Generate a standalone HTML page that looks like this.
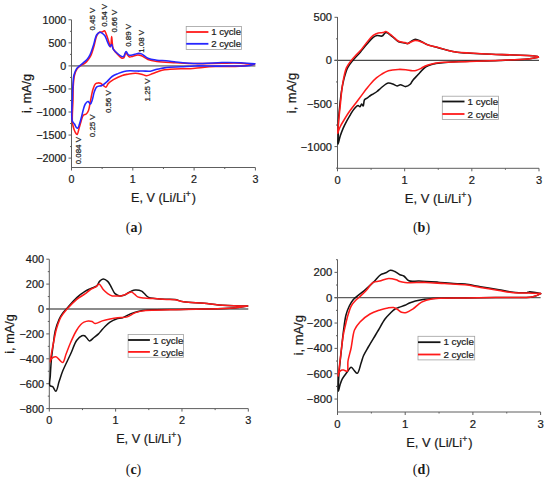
<!DOCTYPE html>
<html><head><meta charset="utf-8"><style>
html,body{margin:0;padding:0;background:#fff;width:550px;height:482px;overflow:hidden}
svg{display:block}
text{stroke:#1a1a1a;stroke-width:0.22px;paint-order:stroke}
</style></head><body>
<svg width="550" height="482" viewBox="0 0 550 482">
<rect width="550" height="482" fill="#fff"/>
<line x1="71.50" y1="65.90" x2="255.40" y2="65.90" stroke="#8c8c8c" stroke-width="1.70"/>
<line x1="71.50" y1="19.80" x2="71.50" y2="168.00" stroke="#5e5e5e" stroke-width="1.00"/>
<line x1="71.00" y1="167.50" x2="255.40" y2="167.50" stroke="#5e5e5e" stroke-width="1.00"/>
<line x1="68.50" y1="19.80" x2="71.50" y2="19.80" stroke="#5e5e5e" stroke-width="1.00"/>
<text x="66.30" y="23.65" font-size="10.70" text-anchor="end" fill="#1a1a1a" font-family='"Liberation Sans", sans-serif' font-weight="normal">1000</text>
<line x1="68.50" y1="42.85" x2="71.50" y2="42.85" stroke="#5e5e5e" stroke-width="1.00"/>
<text x="66.30" y="46.70" font-size="10.70" text-anchor="end" fill="#1a1a1a" font-family='"Liberation Sans", sans-serif' font-weight="normal">500</text>
<line x1="68.50" y1="65.90" x2="71.50" y2="65.90" stroke="#5e5e5e" stroke-width="1.00"/>
<text x="66.30" y="69.75" font-size="10.70" text-anchor="end" fill="#1a1a1a" font-family='"Liberation Sans", sans-serif' font-weight="normal">0</text>
<line x1="68.50" y1="88.95" x2="71.50" y2="88.95" stroke="#5e5e5e" stroke-width="1.00"/>
<text x="66.30" y="92.80" font-size="10.70" text-anchor="end" fill="#1a1a1a" font-family='"Liberation Sans", sans-serif' font-weight="normal">−500</text>
<line x1="68.50" y1="112.00" x2="71.50" y2="112.00" stroke="#5e5e5e" stroke-width="1.00"/>
<text x="66.30" y="115.85" font-size="10.70" text-anchor="end" fill="#1a1a1a" font-family='"Liberation Sans", sans-serif' font-weight="normal">−1000</text>
<line x1="68.50" y1="135.05" x2="71.50" y2="135.05" stroke="#5e5e5e" stroke-width="1.00"/>
<text x="66.30" y="138.90" font-size="10.70" text-anchor="end" fill="#1a1a1a" font-family='"Liberation Sans", sans-serif' font-weight="normal">−1500</text>
<line x1="68.50" y1="158.10" x2="71.50" y2="158.10" stroke="#5e5e5e" stroke-width="1.00"/>
<text x="66.30" y="161.95" font-size="10.70" text-anchor="end" fill="#1a1a1a" font-family='"Liberation Sans", sans-serif' font-weight="normal">−2000</text>
<line x1="70.00" y1="31.33" x2="71.50" y2="31.33" stroke="#5e5e5e" stroke-width="1.00"/>
<line x1="70.00" y1="54.38" x2="71.50" y2="54.38" stroke="#5e5e5e" stroke-width="1.00"/>
<line x1="70.00" y1="77.43" x2="71.50" y2="77.43" stroke="#5e5e5e" stroke-width="1.00"/>
<line x1="70.00" y1="100.48" x2="71.50" y2="100.48" stroke="#5e5e5e" stroke-width="1.00"/>
<line x1="70.00" y1="123.53" x2="71.50" y2="123.53" stroke="#5e5e5e" stroke-width="1.00"/>
<line x1="70.00" y1="146.57" x2="71.50" y2="146.57" stroke="#5e5e5e" stroke-width="1.00"/>
<line x1="71.50" y1="167.50" x2="71.50" y2="170.50" stroke="#5e5e5e" stroke-width="1.00"/>
<text x="71.50" y="182.50" font-size="10.70" text-anchor="middle" fill="#1a1a1a" font-family='"Liberation Sans", sans-serif' font-weight="normal">0</text>
<line x1="132.80" y1="167.50" x2="132.80" y2="170.50" stroke="#5e5e5e" stroke-width="1.00"/>
<text x="132.80" y="182.50" font-size="10.70" text-anchor="middle" fill="#1a1a1a" font-family='"Liberation Sans", sans-serif' font-weight="normal">1</text>
<line x1="194.10" y1="167.50" x2="194.10" y2="170.50" stroke="#5e5e5e" stroke-width="1.00"/>
<text x="194.10" y="182.50" font-size="10.70" text-anchor="middle" fill="#1a1a1a" font-family='"Liberation Sans", sans-serif' font-weight="normal">2</text>
<line x1="255.40" y1="167.50" x2="255.40" y2="170.50" stroke="#5e5e5e" stroke-width="1.00"/>
<text x="255.40" y="182.50" font-size="10.70" text-anchor="middle" fill="#1a1a1a" font-family='"Liberation Sans", sans-serif' font-weight="normal">3</text>
<line x1="102.15" y1="167.50" x2="102.15" y2="169.00" stroke="#5e5e5e" stroke-width="1.00"/>
<line x1="163.45" y1="167.50" x2="163.45" y2="169.00" stroke="#5e5e5e" stroke-width="1.00"/>
<line x1="224.75" y1="167.50" x2="224.75" y2="169.00" stroke="#5e5e5e" stroke-width="1.00"/>
<text x="163.50" y="201.80" font-size="12.60" text-anchor="middle" fill="#1a1a1a" font-family='"Liberation Sans", sans-serif'>E, V (Li/Li<tspan font-size="8.57" dy="-5">+</tspan><tspan dy="5" dx="1">)</tspan></text>
<text x="30.80" y="93.50" font-size="12.60" text-anchor="middle" fill="#1a1a1a" font-family='"Liberation Sans", sans-serif' font-weight="normal" transform="rotate(-90 30.80 93.50)">i, mA/g</text>
<text x="134.00" y="231.50" font-size="14" text-anchor="middle" fill="#1a1a1a" style="stroke:none" font-family='"Liberation Serif", serif'>(<tspan font-weight="bold">a</tspan>)</text>
<rect x="186.20" y="26.50" width="55.20" height="22.90" fill="none" stroke="#a0a0a0" stroke-width="0.8"/>
<line x1="186.20" y1="32.00" x2="208.40" y2="32.00" stroke="#ff1a1a" stroke-width="1.80"/>
<text x="211.20" y="35.30" font-size="9.60" text-anchor="start" fill="#1a1a1a" font-family='"Liberation Sans", sans-serif' font-weight="normal">1 cycle</text>
<line x1="186.20" y1="43.80" x2="208.40" y2="43.80" stroke="#2626ff" stroke-width="1.80"/>
<text x="211.20" y="47.00" font-size="9.60" text-anchor="start" fill="#1a1a1a" font-family='"Liberation Sans", sans-serif' font-weight="normal">2 cycle</text>
<path d="M254.50,64.30 C254.50,64.30 245.17,65.89 239.60,66.30 C232.54,66.82 222.27,66.35 215.50,66.60 C210.56,66.78 206.95,67.03 202.70,67.40 C198.45,67.77 193.89,68.61 190.00,68.80 C186.72,68.96 184.07,68.63 180.90,68.70 C177.43,68.78 173.35,69.02 170.00,69.30 C167.12,69.54 164.71,69.56 162.00,70.20 C159.05,70.90 155.76,72.53 153.00,73.50 C150.66,74.32 148.53,75.66 146.50,75.70 C144.73,75.73 143.26,74.59 141.50,74.20 C139.61,73.78 137.61,73.33 135.50,73.30 C133.14,73.27 130.32,73.82 128.00,74.20 C125.96,74.54 124.36,74.70 122.30,75.40 C119.61,76.32 115.90,78.19 113.40,79.70 C111.40,80.91 109.60,82.12 108.30,83.50 C107.22,84.65 106.80,87.01 105.90,87.20 C105.17,87.35 104.33,86.20 103.50,85.60 C102.54,84.92 101.50,83.73 100.50,83.30 C99.70,82.95 98.91,82.83 98.10,82.90 C97.24,82.97 96.24,83.12 95.50,83.80 C94.40,84.80 93.74,87.09 93.00,89.30 C91.98,92.37 91.27,97.04 90.50,100.70 C89.78,104.09 89.48,108.12 88.50,110.50 C87.87,112.04 87.15,113.19 86.20,114.00 C85.37,114.70 84.09,114.44 83.30,115.30 C82.11,116.58 81.62,119.77 80.90,122.00 C80.19,124.17 79.65,126.38 79.00,128.50 C78.38,130.54 77.90,134.34 77.10,134.50 C76.55,134.61 75.72,133.07 75.20,132.20 C74.64,131.28 74.30,130.36 73.90,129.10 C73.32,127.26 72.68,125.11 72.40,122.10 C71.91,116.82 72.84,106.59 73.00,100.00 C73.13,94.66 73.00,89.90 73.30,85.50 C73.56,81.80 73.74,78.26 74.50,75.30 C75.12,72.87 75.97,70.54 77.10,68.90 C78.00,67.59 79.07,66.81 80.30,65.90 C81.67,64.89 83.67,64.25 85.00,63.20 C86.19,62.26 87.07,61.19 88.00,60.00 C89.01,58.71 89.93,57.50 90.80,55.70 C92.04,53.14 93.08,49.19 94.10,45.80 C95.15,42.29 95.63,37.38 97.00,35.00 C97.85,33.54 98.99,32.42 100.00,32.00 C100.73,31.70 101.48,32.18 102.20,32.00 C102.98,31.81 103.87,30.60 104.50,30.80 C105.26,31.04 105.63,32.75 106.20,34.10 C107.03,36.07 107.98,39.30 108.70,41.60 C109.31,43.54 109.88,47.01 110.30,47.00 C110.64,46.99 110.89,44.87 111.10,43.50 C111.39,41.60 111.45,36.60 111.65,36.60 C111.82,36.60 112.01,40.22 112.20,42.00 C112.39,43.75 112.44,45.75 112.80,47.20 C113.07,48.30 113.29,49.00 113.90,50.00 C114.80,51.48 116.83,53.46 118.20,54.90 C119.35,56.11 120.39,57.77 121.50,58.10 C122.33,58.34 123.34,58.18 124.00,57.60 C124.98,56.74 125.15,52.38 125.80,52.30 C126.24,52.25 126.64,53.77 127.20,54.50 C127.84,55.34 128.55,56.71 129.50,57.00 C130.47,57.30 131.75,56.49 133.00,56.20 C134.45,55.86 136.21,55.14 137.70,55.10 C139.03,55.07 140.12,55.29 141.50,55.80 C143.41,56.50 145.51,58.57 147.90,59.50 C150.55,60.54 153.25,60.99 156.80,61.50 C161.94,62.23 169.53,62.35 175.90,62.70 C182.27,63.05 188.09,63.49 195.00,63.60 C203.18,63.73 213.62,63.26 221.80,63.20 C228.70,63.15 235.08,62.96 240.90,63.20 C245.82,63.40 254.50,64.30 254.50,64.30" fill="none" stroke="#ff1a1a" stroke-width="1.55" stroke-linejoin="round" stroke-linecap="round"/>
<path d="M254.90,63.70 C254.90,63.70 252.23,64.99 250.00,65.40 C245.63,66.20 236.13,65.89 230.00,66.00 C224.78,66.10 220.75,66.11 215.50,66.10 C209.26,66.09 201.19,65.73 195.00,65.90 C189.86,66.04 185.35,66.58 180.90,66.80 C176.90,67.00 172.92,66.90 169.50,67.20 C166.67,67.45 164.06,67.93 161.80,68.30 C160.01,68.60 158.71,68.78 157.00,69.20 C154.96,69.70 152.71,70.89 150.40,71.20 C147.96,71.53 144.99,71.01 142.70,71.00 C140.85,70.99 139.55,71.12 137.70,71.10 C135.41,71.08 132.40,70.73 130.00,70.80 C127.87,70.86 125.97,70.95 124.00,71.40 C121.97,71.87 119.97,72.76 118.00,73.60 C116.00,74.45 113.90,75.21 112.10,76.50 C110.22,77.85 108.75,80.07 107.00,81.60 C105.35,83.05 103.69,84.61 101.90,85.50 C100.27,86.31 98.06,85.87 96.80,86.90 C95.51,87.95 94.99,89.94 94.30,91.80 C93.47,94.04 93.14,97.32 92.40,99.50 C91.83,101.20 91.33,103.73 90.50,103.90 C89.78,104.04 88.76,101.39 87.90,101.40 C87.03,101.41 86.00,102.90 85.30,104.00 C84.46,105.33 84.07,107.12 83.50,109.00 C82.79,111.34 82.19,114.43 81.50,117.00 C80.85,119.42 80.21,121.97 79.50,124.00 C78.93,125.63 78.44,128.10 77.70,128.30 C77.20,128.43 76.49,127.60 76.00,127.00 C75.38,126.25 75.10,124.99 74.50,124.00 C73.85,122.92 72.73,122.48 72.20,120.80 C70.92,116.78 72.24,104.65 72.40,98.20 C72.52,93.36 72.63,89.50 72.90,85.50 C73.15,81.91 73.17,78.26 73.90,75.30 C74.50,72.87 75.39,70.55 76.50,68.90 C77.38,67.60 78.46,66.93 79.60,65.90 C80.92,64.71 82.68,63.35 84.00,62.20 C85.10,61.24 86.07,60.59 87.00,59.50 C88.09,58.23 89.07,56.76 90.00,54.90 C91.23,52.44 92.24,48.98 93.30,45.80 C94.45,42.37 95.23,37.27 96.60,35.00 C97.38,33.70 98.20,32.66 99.20,32.40 C100.15,32.15 101.46,32.75 102.40,33.30 C103.37,33.87 104.16,34.70 104.90,35.80 C105.89,37.26 106.54,39.75 107.40,41.60 C108.21,43.34 109.08,46.51 109.90,46.60 C110.47,46.66 111.11,44.41 111.60,44.50 C112.26,44.62 112.28,47.63 113.20,49.10 C114.31,50.87 116.61,52.77 118.20,54.10 C119.45,55.14 120.76,56.34 121.80,56.60 C122.47,56.77 123.04,56.78 123.60,56.40 C124.56,55.74 125.23,51.66 126.10,51.60 C126.84,51.55 127.47,54.21 128.40,54.80 C129.16,55.29 130.04,55.33 131.00,55.30 C132.19,55.27 133.80,54.65 135.00,54.30 C135.99,54.01 136.71,53.49 137.70,53.40 C138.85,53.29 140.14,53.38 141.50,53.90 C143.44,54.64 145.48,57.26 147.90,58.30 C150.52,59.43 153.79,59.78 156.80,60.20 C159.83,60.62 162.88,60.53 166.00,60.80 C169.24,61.09 172.57,61.55 175.90,61.90 C179.27,62.25 182.28,62.66 186.10,62.90 C190.96,63.21 196.97,63.45 202.70,63.40 C208.84,63.35 215.43,62.62 221.80,62.50 C228.16,62.38 235.03,62.46 240.90,62.70 C245.93,62.91 254.90,63.70 254.90,63.70" fill="none" stroke="#2626ff" stroke-width="1.55" stroke-linejoin="round" stroke-linecap="round"/>
<line x1="334.50" y1="60.40" x2="539.00" y2="60.40" stroke="#4a4a4a" stroke-width="1.20"/>
<line x1="337.50" y1="17.00" x2="337.50" y2="168.80" stroke="#5e5e5e" stroke-width="1.00"/>
<line x1="337.00" y1="168.30" x2="539.00" y2="168.30" stroke="#5e5e5e" stroke-width="1.00"/>
<line x1="334.50" y1="17.30" x2="337.50" y2="17.30" stroke="#5e5e5e" stroke-width="1.00"/>
<text x="332.00" y="21.30" font-size="11.10" text-anchor="end" fill="#1a1a1a" font-family='"Liberation Sans", sans-serif' font-weight="normal">500</text>
<line x1="334.50" y1="60.40" x2="337.50" y2="60.40" stroke="#5e5e5e" stroke-width="1.00"/>
<text x="332.00" y="64.40" font-size="11.10" text-anchor="end" fill="#1a1a1a" font-family='"Liberation Sans", sans-serif' font-weight="normal">0</text>
<line x1="334.50" y1="103.50" x2="337.50" y2="103.50" stroke="#5e5e5e" stroke-width="1.00"/>
<text x="332.00" y="107.50" font-size="11.10" text-anchor="end" fill="#1a1a1a" font-family='"Liberation Sans", sans-serif' font-weight="normal">−500</text>
<line x1="334.50" y1="146.60" x2="337.50" y2="146.60" stroke="#5e5e5e" stroke-width="1.00"/>
<text x="332.00" y="150.60" font-size="11.10" text-anchor="end" fill="#1a1a1a" font-family='"Liberation Sans", sans-serif' font-weight="normal">−1000</text>
<line x1="336.00" y1="38.85" x2="337.50" y2="38.85" stroke="#5e5e5e" stroke-width="1.00"/>
<line x1="336.00" y1="81.95" x2="337.50" y2="81.95" stroke="#5e5e5e" stroke-width="1.00"/>
<line x1="336.00" y1="125.05" x2="337.50" y2="125.05" stroke="#5e5e5e" stroke-width="1.00"/>
<line x1="336.00" y1="168.15" x2="337.50" y2="168.15" stroke="#5e5e5e" stroke-width="1.00"/>
<line x1="337.50" y1="168.30" x2="337.50" y2="171.30" stroke="#5e5e5e" stroke-width="1.00"/>
<text x="337.50" y="184.00" font-size="11.10" text-anchor="middle" fill="#1a1a1a" font-family='"Liberation Sans", sans-serif' font-weight="normal">0</text>
<line x1="404.67" y1="168.30" x2="404.67" y2="171.30" stroke="#5e5e5e" stroke-width="1.00"/>
<text x="404.67" y="184.00" font-size="11.10" text-anchor="middle" fill="#1a1a1a" font-family='"Liberation Sans", sans-serif' font-weight="normal">1</text>
<line x1="471.83" y1="168.30" x2="471.83" y2="171.30" stroke="#5e5e5e" stroke-width="1.00"/>
<text x="471.83" y="184.00" font-size="11.10" text-anchor="middle" fill="#1a1a1a" font-family='"Liberation Sans", sans-serif' font-weight="normal">2</text>
<line x1="539.00" y1="168.30" x2="539.00" y2="171.30" stroke="#5e5e5e" stroke-width="1.00"/>
<text x="539.00" y="184.00" font-size="11.10" text-anchor="middle" fill="#1a1a1a" font-family='"Liberation Sans", sans-serif' font-weight="normal">3</text>
<line x1="371.08" y1="168.30" x2="371.08" y2="169.80" stroke="#5e5e5e" stroke-width="1.00"/>
<line x1="438.25" y1="168.30" x2="438.25" y2="169.80" stroke="#5e5e5e" stroke-width="1.00"/>
<line x1="505.42" y1="168.30" x2="505.42" y2="169.80" stroke="#5e5e5e" stroke-width="1.00"/>
<text x="438.30" y="203.30" font-size="13.00" text-anchor="middle" fill="#1a1a1a" font-family='"Liberation Sans", sans-serif'>E, V (Li/Li<tspan font-size="8.84" dy="-5">+</tspan><tspan dy="5" dx="1">)</tspan></text>
<text x="296.20" y="93.00" font-size="13.00" text-anchor="middle" fill="#1a1a1a" font-family='"Liberation Sans", sans-serif' font-weight="normal" transform="rotate(-90 296.20 93.00)">i, mA/g</text>
<text x="421.50" y="231.50" font-size="14" text-anchor="middle" fill="#1a1a1a" style="stroke:none" font-family='"Liberation Serif", serif'>(<tspan font-weight="bold">b</tspan>)</text>
<rect x="442.30" y="96.20" width="56.30" height="23.20" fill="none" stroke="#a0a0a0" stroke-width="0.8"/>
<line x1="442.30" y1="101.50" x2="464.50" y2="101.50" stroke="#141414" stroke-width="1.80"/>
<text x="467.60" y="105.40" font-size="9.80" text-anchor="start" fill="#1a1a1a" font-family='"Liberation Sans", sans-serif' font-weight="normal">1 cycle</text>
<line x1="442.30" y1="114.00" x2="464.50" y2="114.00" stroke="#ff1a1a" stroke-width="1.80"/>
<text x="467.60" y="117.60" font-size="9.80" text-anchor="start" fill="#1a1a1a" font-family='"Liberation Sans", sans-serif' font-weight="normal">2 cycle</text>
<path d="M538.40,57.20 C538.40,57.20 532.35,58.43 528.00,58.90 C520.77,59.68 508.67,60.00 499.00,60.40 C489.34,60.80 478.66,61.03 470.00,61.30 C462.97,61.52 456.91,61.47 450.90,61.90 C445.51,62.28 438.98,63.06 435.60,63.60 C433.90,63.87 433.20,63.97 431.80,64.40 C429.94,64.97 427.41,65.72 425.50,67.00 C423.45,68.36 421.54,70.88 420.00,72.50 C418.83,73.72 418.09,74.61 417.00,75.80 C415.70,77.21 413.88,78.88 412.70,80.40 C411.68,81.71 411.32,83.27 410.20,84.30 C409.04,85.36 407.37,86.49 405.80,86.60 C404.12,86.72 401.98,84.69 400.40,84.70 C399.16,84.71 398.27,85.95 397.10,85.90 C395.73,85.85 394.19,84.37 392.70,83.90 C391.29,83.45 389.58,83.00 388.40,83.10 C387.53,83.17 387.04,83.43 386.20,83.90 C384.78,84.69 382.60,86.67 381.00,88.00 C379.56,89.19 378.32,90.49 377.00,91.50 C375.83,92.39 374.63,93.11 373.50,93.80 C372.47,94.43 371.48,94.85 370.50,95.50 C369.48,96.18 368.51,97.08 367.50,97.80 C366.51,98.51 365.21,98.75 364.50,99.80 C363.56,101.19 363.88,105.84 363.20,106.00 C362.77,106.10 362.11,103.96 361.60,104.00 C361.03,104.04 360.67,106.63 360.00,106.80 C359.43,106.95 358.74,105.54 358.00,105.60 C356.93,105.68 355.45,107.41 354.30,108.70 C352.95,110.22 351.81,112.34 350.60,114.30 C349.31,116.39 348.02,118.61 346.80,120.90 C345.52,123.30 344.19,125.88 343.10,128.40 C342.04,130.85 341.15,133.23 340.30,135.80 C339.40,138.52 338.24,144.35 337.90,144.30 C337.57,144.25 338.12,139.17 338.20,136.00 C338.31,131.73 338.16,125.78 338.40,121.00 C338.62,116.61 339.05,112.89 339.50,108.40 C340.02,103.24 340.60,96.95 341.40,91.80 C342.10,87.27 342.82,83.20 343.90,79.10 C344.94,75.14 346.02,70.90 347.70,67.60 C349.16,64.74 351.00,62.68 353.00,60.20 C355.22,57.45 358.14,54.63 360.50,51.90 C362.72,49.33 364.66,46.76 366.80,44.30 C368.90,41.89 371.20,38.74 373.20,37.30 C374.53,36.34 375.61,35.84 377.00,35.60 C378.54,35.33 380.62,36.52 382.10,36.00 C383.59,35.47 384.41,32.53 385.90,32.40 C387.70,32.24 390.21,35.08 392.30,36.60 C394.45,38.17 396.35,40.64 398.60,41.70 C400.62,42.65 403.34,42.64 405.00,43.00 C406.06,43.23 406.71,43.75 407.60,43.60 C408.69,43.42 409.79,42.20 411.00,41.50 C412.34,40.73 413.71,39.29 415.30,39.20 C417.18,39.09 419.51,40.77 421.60,41.70 C423.75,42.66 425.57,43.97 428.00,44.90 C430.96,46.03 434.80,46.75 438.20,47.70 C441.60,48.65 445.10,49.84 448.40,50.60 C451.45,51.31 454.06,51.78 457.30,52.20 C461.15,52.70 465.20,52.89 470.00,53.20 C476.29,53.61 484.53,54.00 491.80,54.30 C499.07,54.60 506.16,54.65 513.60,55.00 C521.41,55.37 535.16,55.50 537.60,56.50 C538.11,56.71 538.40,57.20 538.40,57.20" fill="none" stroke="#141414" stroke-width="1.55" stroke-linejoin="round" stroke-linecap="round"/>
<path d="M538.40,57.20 C538.40,57.20 532.35,58.43 528.00,58.90 C520.77,59.68 508.67,59.97 499.00,60.40 C489.33,60.83 479.36,61.18 470.00,61.50 C461.23,61.80 450.14,61.99 444.50,62.30 C441.69,62.46 440.30,62.52 438.20,62.80 C436.07,63.08 433.65,63.56 431.80,64.00 C430.36,64.34 429.35,64.63 428.00,65.10 C426.41,65.66 424.34,66.49 422.90,67.20 C421.78,67.76 421.07,68.38 420.00,68.90 C418.79,69.49 417.32,70.19 416.00,70.50 C414.79,70.79 413.78,70.86 412.40,70.80 C410.53,70.72 408.09,69.93 405.80,69.70 C403.36,69.45 400.89,69.26 398.20,69.40 C395.13,69.56 391.28,69.90 388.40,70.80 C385.91,71.58 383.85,72.88 381.80,74.10 C379.86,75.26 378.15,76.43 376.40,77.90 C374.50,79.49 372.59,81.53 370.90,83.40 C369.30,85.17 368.09,86.77 366.50,88.80 C364.52,91.34 362.10,94.71 360.00,97.50 C358.04,100.10 356.19,102.50 354.30,105.00 C352.42,107.50 350.44,109.96 348.70,112.50 C347.01,114.97 345.45,117.57 344.00,120.00 C342.67,122.23 341.28,124.48 340.30,126.50 C339.49,128.16 338.83,129.90 338.40,131.20 C338.11,132.09 337.89,133.51 337.80,133.50 C337.71,133.49 337.84,132.05 337.90,131.00 C338.00,129.20 338.19,126.29 338.40,123.70 C338.64,120.76 338.98,117.42 339.30,114.30 C339.62,111.19 339.95,108.37 340.30,105.00 C340.71,100.99 341.06,96.15 341.60,91.80 C342.13,87.52 342.66,83.21 343.50,79.10 C344.31,75.15 345.01,70.90 346.50,67.60 C347.80,64.74 349.87,62.32 351.50,60.20 C352.83,58.47 353.98,57.22 355.40,55.70 C356.96,54.03 358.78,52.57 360.50,50.60 C362.56,48.25 364.63,44.98 366.80,42.40 C368.87,39.93 371.03,37.03 373.20,35.40 C374.88,34.14 376.59,33.35 378.30,32.90 C379.86,32.49 381.64,32.87 383.00,32.60 C384.10,32.38 384.79,31.45 385.90,31.60 C387.67,31.84 390.21,34.42 392.30,36.00 C394.44,37.62 396.35,40.11 398.60,41.20 C400.61,42.18 403.35,42.11 405.00,42.60 C406.07,42.92 406.68,43.63 407.60,43.60 C408.67,43.56 409.79,42.50 411.00,42.00 C412.34,41.45 413.72,40.59 415.30,40.50 C417.19,40.39 419.53,41.19 421.60,41.90 C423.77,42.64 425.57,44.03 428.00,44.90 C430.96,45.96 434.81,46.55 438.20,47.50 C441.61,48.45 445.09,49.80 448.40,50.60 C451.45,51.33 454.06,51.79 457.30,52.20 C461.15,52.68 465.20,52.80 470.00,53.10 C476.29,53.50 484.53,53.98 491.80,54.30 C499.06,54.62 506.16,54.65 513.60,55.00 C521.41,55.37 535.16,55.50 537.60,56.50 C538.11,56.71 538.40,57.20 538.40,57.20" fill="none" stroke="#ff1a1a" stroke-width="1.55" stroke-linejoin="round" stroke-linecap="round"/>
<line x1="46.30" y1="309.00" x2="248.30" y2="309.00" stroke="#8c8c8c" stroke-width="1.80"/>
<line x1="49.30" y1="259.30" x2="49.30" y2="409.10" stroke="#5e5e5e" stroke-width="1.00"/>
<line x1="48.80" y1="408.60" x2="248.30" y2="408.60" stroke="#5e5e5e" stroke-width="1.00"/>
<line x1="46.30" y1="259.20" x2="49.30" y2="259.20" stroke="#5e5e5e" stroke-width="1.00"/>
<text x="44.00" y="263.12" font-size="10.90" text-anchor="end" fill="#1a1a1a" font-family='"Liberation Sans", sans-serif' font-weight="normal">400</text>
<line x1="46.30" y1="284.10" x2="49.30" y2="284.10" stroke="#5e5e5e" stroke-width="1.00"/>
<text x="44.00" y="288.02" font-size="10.90" text-anchor="end" fill="#1a1a1a" font-family='"Liberation Sans", sans-serif' font-weight="normal">200</text>
<line x1="46.30" y1="309.00" x2="49.30" y2="309.00" stroke="#5e5e5e" stroke-width="1.00"/>
<text x="44.00" y="312.92" font-size="10.90" text-anchor="end" fill="#1a1a1a" font-family='"Liberation Sans", sans-serif' font-weight="normal">0</text>
<line x1="46.30" y1="333.90" x2="49.30" y2="333.90" stroke="#5e5e5e" stroke-width="1.00"/>
<text x="44.00" y="337.82" font-size="10.90" text-anchor="end" fill="#1a1a1a" font-family='"Liberation Sans", sans-serif' font-weight="normal">−200</text>
<line x1="46.30" y1="358.80" x2="49.30" y2="358.80" stroke="#5e5e5e" stroke-width="1.00"/>
<text x="44.00" y="362.72" font-size="10.90" text-anchor="end" fill="#1a1a1a" font-family='"Liberation Sans", sans-serif' font-weight="normal">−400</text>
<line x1="46.30" y1="383.70" x2="49.30" y2="383.70" stroke="#5e5e5e" stroke-width="1.00"/>
<text x="44.00" y="387.62" font-size="10.90" text-anchor="end" fill="#1a1a1a" font-family='"Liberation Sans", sans-serif' font-weight="normal">−600</text>
<line x1="46.30" y1="408.60" x2="49.30" y2="408.60" stroke="#5e5e5e" stroke-width="1.00"/>
<text x="44.00" y="412.52" font-size="10.90" text-anchor="end" fill="#1a1a1a" font-family='"Liberation Sans", sans-serif' font-weight="normal">−800</text>
<line x1="47.80" y1="271.65" x2="49.30" y2="271.65" stroke="#5e5e5e" stroke-width="1.00"/>
<line x1="47.80" y1="296.55" x2="49.30" y2="296.55" stroke="#5e5e5e" stroke-width="1.00"/>
<line x1="47.80" y1="321.45" x2="49.30" y2="321.45" stroke="#5e5e5e" stroke-width="1.00"/>
<line x1="47.80" y1="346.35" x2="49.30" y2="346.35" stroke="#5e5e5e" stroke-width="1.00"/>
<line x1="47.80" y1="371.25" x2="49.30" y2="371.25" stroke="#5e5e5e" stroke-width="1.00"/>
<line x1="47.80" y1="396.15" x2="49.30" y2="396.15" stroke="#5e5e5e" stroke-width="1.00"/>
<line x1="49.30" y1="408.60" x2="49.30" y2="411.60" stroke="#5e5e5e" stroke-width="1.00"/>
<text x="49.30" y="424.20" font-size="10.90" text-anchor="middle" fill="#1a1a1a" font-family='"Liberation Sans", sans-serif' font-weight="normal">0</text>
<line x1="115.63" y1="408.60" x2="115.63" y2="411.60" stroke="#5e5e5e" stroke-width="1.00"/>
<text x="115.63" y="424.20" font-size="10.90" text-anchor="middle" fill="#1a1a1a" font-family='"Liberation Sans", sans-serif' font-weight="normal">1</text>
<line x1="181.97" y1="408.60" x2="181.97" y2="411.60" stroke="#5e5e5e" stroke-width="1.00"/>
<text x="181.97" y="424.20" font-size="10.90" text-anchor="middle" fill="#1a1a1a" font-family='"Liberation Sans", sans-serif' font-weight="normal">2</text>
<line x1="248.30" y1="408.60" x2="248.30" y2="411.60" stroke="#5e5e5e" stroke-width="1.00"/>
<text x="248.30" y="424.20" font-size="10.90" text-anchor="middle" fill="#1a1a1a" font-family='"Liberation Sans", sans-serif' font-weight="normal">3</text>
<line x1="82.47" y1="408.60" x2="82.47" y2="410.10" stroke="#5e5e5e" stroke-width="1.00"/>
<line x1="148.80" y1="408.60" x2="148.80" y2="410.10" stroke="#5e5e5e" stroke-width="1.00"/>
<line x1="215.13" y1="408.60" x2="215.13" y2="410.10" stroke="#5e5e5e" stroke-width="1.00"/>
<text x="148.80" y="443.00" font-size="12.70" text-anchor="middle" fill="#1a1a1a" font-family='"Liberation Sans", sans-serif'>E, V (Li/Li<tspan font-size="8.64" dy="-5">+</tspan><tspan dy="5" dx="1">)</tspan></text>
<text x="14.10" y="334.00" font-size="12.70" text-anchor="middle" fill="#1a1a1a" font-family='"Liberation Sans", sans-serif' font-weight="normal" transform="rotate(-90 14.10 334.00)">i, mA/g</text>
<text x="133.50" y="473.50" font-size="14" text-anchor="middle" fill="#1a1a1a" style="stroke:none" font-family='"Liberation Serif", serif'>(<tspan font-weight="bold">c</tspan>)</text>
<rect x="128.10" y="334.50" width="55.30" height="22.80" fill="none" stroke="#a0a0a0" stroke-width="0.8"/>
<line x1="128.10" y1="340.00" x2="149.90" y2="340.00" stroke="#141414" stroke-width="1.80"/>
<text x="152.90" y="343.90" font-size="9.80" text-anchor="start" fill="#1a1a1a" font-family='"Liberation Sans", sans-serif' font-weight="normal">1 cycle</text>
<line x1="128.10" y1="351.90" x2="149.90" y2="351.90" stroke="#ff1a1a" stroke-width="1.80"/>
<text x="152.90" y="355.50" font-size="9.80" text-anchor="start" fill="#1a1a1a" font-family='"Liberation Sans", sans-serif' font-weight="normal">2 cycle</text>
<path d="M247.70,305.90 C247.70,305.90 238.88,307.39 233.20,307.90 C225.19,308.62 213.34,308.83 204.10,309.10 C195.69,309.34 188.59,309.35 180.00,309.50 C170.13,309.67 155.85,309.54 148.20,310.10 C143.85,310.42 141.12,310.69 138.00,311.40 C135.25,312.02 132.91,312.88 130.40,313.90 C127.80,314.96 125.19,316.84 122.70,317.70 C120.54,318.44 118.46,318.29 116.40,319.00 C114.22,319.75 111.93,320.92 110.00,322.20 C108.15,323.43 106.53,325.00 105.00,326.50 C103.54,327.94 102.17,329.66 101.00,331.00 C100.06,332.07 99.51,332.93 98.50,333.90 C97.26,335.09 95.51,336.33 94.00,337.50 C92.51,338.66 90.75,341.00 89.50,340.90 C88.50,340.82 87.84,339.15 87.00,338.30 C86.17,337.45 85.43,336.18 84.50,335.80 C83.70,335.47 82.84,335.45 81.90,335.80 C80.38,336.37 78.38,338.16 76.80,340.30 C74.43,343.52 72.72,349.45 70.50,354.30 C68.08,359.58 64.80,365.83 62.80,370.80 C61.21,374.73 60.28,378.10 59.10,381.60 C57.99,384.89 57.18,391.01 55.90,391.20 C54.95,391.34 53.88,387.65 52.70,386.70 C51.83,386.00 50.47,386.40 49.90,385.50 C48.89,383.89 50.10,379.53 50.30,375.90 C50.56,371.14 50.89,364.79 51.40,359.40 C51.90,354.20 52.64,349.00 53.30,344.10 C53.91,339.56 54.21,335.17 55.20,331.00 C56.14,327.02 57.59,322.75 59.00,319.60 C60.08,317.19 61.19,315.34 62.50,313.50 C63.74,311.76 64.91,310.69 66.60,308.80 C69.23,305.85 73.44,300.66 76.80,297.60 C79.56,295.08 82.47,292.98 85.00,291.40 C86.96,290.18 88.59,289.49 90.50,288.60 C92.51,287.66 95.27,287.23 96.80,285.90 C98.14,284.73 98.36,282.56 99.50,281.40 C100.54,280.35 101.89,279.15 103.20,279.10 C104.61,279.04 106.41,280.22 107.70,281.40 C109.22,282.79 110.20,285.29 111.40,287.30 C112.63,289.35 113.47,292.14 115.00,293.60 C116.27,294.82 118.03,295.63 119.50,295.90 C120.76,296.13 122.20,295.72 123.20,295.50 C123.92,295.34 124.35,295.23 125.00,294.90 C125.90,294.45 126.94,293.43 128.00,292.80 C129.08,292.16 130.21,291.55 131.40,291.10 C132.61,290.64 133.76,290.17 135.20,290.10 C137.05,290.01 140.03,290.37 141.60,291.10 C142.72,291.63 143.15,292.45 144.10,293.30 C145.39,294.45 146.86,296.53 148.60,297.40 C150.33,298.26 152.56,298.23 154.50,298.50 C156.36,298.76 158.04,298.87 160.00,299.00 C162.26,299.15 164.83,299.20 167.30,299.30 C169.83,299.40 172.38,299.22 175.00,299.60 C177.83,300.01 180.16,301.23 183.70,301.80 C189.04,302.67 197.88,302.71 204.10,303.30 C209.35,303.80 213.26,304.58 218.60,305.00 C225.14,305.52 235.18,305.79 240.50,305.90 C243.55,305.96 247.70,305.90 247.70,305.90" fill="none" stroke="#141414" stroke-width="1.50" stroke-linejoin="round" stroke-linecap="round"/>
<path d="M247.70,305.90 C247.70,305.90 238.88,307.39 233.20,307.90 C225.19,308.62 214.19,308.79 204.10,309.10 C193.19,309.44 180.42,309.54 170.00,309.80 C161.19,310.02 151.94,309.76 145.60,310.50 C141.48,310.98 138.70,311.49 135.50,312.60 C132.34,313.70 129.58,316.26 126.50,317.10 C123.60,317.89 120.44,317.36 117.60,317.70 C114.96,318.01 112.53,318.47 110.00,319.00 C107.43,319.54 104.78,320.13 102.30,320.90 C99.89,321.64 97.15,323.69 95.30,323.50 C93.99,323.37 93.26,321.93 92.10,321.50 C90.93,321.06 89.60,320.81 88.30,320.90 C86.90,321.00 85.30,321.55 84.00,322.20 C82.74,322.83 81.71,323.56 80.60,324.70 C79.10,326.24 77.66,328.50 76.20,331.00 C74.29,334.26 72.22,338.86 70.50,342.80 C68.83,346.63 67.37,350.79 66.00,354.30 C64.84,357.26 64.23,362.12 62.80,362.50 C61.73,362.78 60.21,360.39 59.00,359.40 C57.89,358.49 57.01,356.97 55.80,356.80 C54.50,356.62 52.35,357.73 51.40,358.70 C50.59,359.52 50.26,361.94 50.10,361.90 C49.81,361.82 51.29,354.40 52.00,350.50 C52.75,346.35 53.78,341.28 54.50,337.70 C55.02,335.11 55.35,333.16 55.90,331.00 C56.42,328.93 56.95,327.12 57.70,325.00 C58.59,322.50 59.56,319.54 61.00,317.00 C62.50,314.36 64.34,312.11 66.60,309.50 C69.40,306.26 73.45,302.03 76.80,299.30 C79.57,297.05 82.57,295.66 85.00,293.90 C87.05,292.41 88.61,290.71 90.50,289.50 C92.25,288.38 94.38,287.80 95.90,286.80 C97.16,285.97 98.03,283.98 99.10,284.10 C100.46,284.25 101.72,287.88 103.20,289.50 C104.60,291.03 106.11,292.51 107.70,293.60 C109.16,294.60 110.77,295.50 112.30,295.90 C113.67,296.26 114.97,296.09 116.40,296.10 C117.98,296.11 119.89,296.20 121.40,295.90 C122.72,295.64 123.82,295.08 125.00,294.60 C126.18,294.12 127.38,293.45 128.50,293.00 C129.50,292.60 130.44,291.87 131.40,292.00 C132.48,292.15 133.56,293.41 134.60,294.20 C135.66,295.01 136.38,296.16 137.70,296.80 C139.37,297.61 141.70,297.80 144.10,298.10 C147.14,298.48 151.58,298.40 154.50,298.60 C156.62,298.75 158.04,298.96 160.00,299.10 C162.26,299.26 164.83,299.38 167.30,299.50 C169.83,299.62 172.37,299.45 175.00,299.80 C177.83,300.18 180.17,301.27 183.70,301.80 C189.05,302.61 197.88,302.71 204.10,303.30 C209.35,303.80 213.26,304.58 218.60,305.00 C225.14,305.52 235.18,305.79 240.50,305.90 C243.55,305.96 247.70,305.90 247.70,305.90" fill="none" stroke="#ff1a1a" stroke-width="1.50" stroke-linejoin="round" stroke-linecap="round"/>
<line x1="334.50" y1="297.70" x2="540.60" y2="297.70" stroke="#5e5e5e" stroke-width="1.30"/>
<line x1="337.50" y1="259.50" x2="337.50" y2="412.50" stroke="#5e5e5e" stroke-width="1.00"/>
<line x1="337.00" y1="412.00" x2="540.60" y2="412.00" stroke="#5e5e5e" stroke-width="1.00"/>
<line x1="334.50" y1="272.36" x2="337.50" y2="272.36" stroke="#5e5e5e" stroke-width="1.00"/>
<text x="332.30" y="276.43" font-size="11.30" text-anchor="end" fill="#1a1a1a" font-family='"Liberation Sans", sans-serif' font-weight="normal">200</text>
<line x1="334.50" y1="297.70" x2="337.50" y2="297.70" stroke="#5e5e5e" stroke-width="1.00"/>
<text x="332.30" y="301.77" font-size="11.30" text-anchor="end" fill="#1a1a1a" font-family='"Liberation Sans", sans-serif' font-weight="normal">0</text>
<line x1="334.50" y1="323.04" x2="337.50" y2="323.04" stroke="#5e5e5e" stroke-width="1.00"/>
<text x="332.30" y="327.11" font-size="11.30" text-anchor="end" fill="#1a1a1a" font-family='"Liberation Sans", sans-serif' font-weight="normal">−200</text>
<line x1="334.50" y1="348.38" x2="337.50" y2="348.38" stroke="#5e5e5e" stroke-width="1.00"/>
<text x="332.30" y="352.45" font-size="11.30" text-anchor="end" fill="#1a1a1a" font-family='"Liberation Sans", sans-serif' font-weight="normal">−400</text>
<line x1="334.50" y1="373.72" x2="337.50" y2="373.72" stroke="#5e5e5e" stroke-width="1.00"/>
<text x="332.30" y="377.79" font-size="11.30" text-anchor="end" fill="#1a1a1a" font-family='"Liberation Sans", sans-serif' font-weight="normal">−600</text>
<line x1="334.50" y1="399.06" x2="337.50" y2="399.06" stroke="#5e5e5e" stroke-width="1.00"/>
<text x="332.30" y="403.13" font-size="11.30" text-anchor="end" fill="#1a1a1a" font-family='"Liberation Sans", sans-serif' font-weight="normal">−800</text>
<line x1="336.00" y1="259.69" x2="337.50" y2="259.69" stroke="#5e5e5e" stroke-width="1.00"/>
<line x1="336.00" y1="285.03" x2="337.50" y2="285.03" stroke="#5e5e5e" stroke-width="1.00"/>
<line x1="336.00" y1="310.37" x2="337.50" y2="310.37" stroke="#5e5e5e" stroke-width="1.00"/>
<line x1="336.00" y1="335.71" x2="337.50" y2="335.71" stroke="#5e5e5e" stroke-width="1.00"/>
<line x1="336.00" y1="361.05" x2="337.50" y2="361.05" stroke="#5e5e5e" stroke-width="1.00"/>
<line x1="336.00" y1="386.39" x2="337.50" y2="386.39" stroke="#5e5e5e" stroke-width="1.00"/>
<line x1="337.50" y1="412.00" x2="337.50" y2="415.00" stroke="#5e5e5e" stroke-width="1.00"/>
<text x="337.50" y="427.60" font-size="11.30" text-anchor="middle" fill="#1a1a1a" font-family='"Liberation Sans", sans-serif' font-weight="normal">0</text>
<line x1="405.20" y1="412.00" x2="405.20" y2="415.00" stroke="#5e5e5e" stroke-width="1.00"/>
<text x="405.20" y="427.60" font-size="11.30" text-anchor="middle" fill="#1a1a1a" font-family='"Liberation Sans", sans-serif' font-weight="normal">1</text>
<line x1="472.90" y1="412.00" x2="472.90" y2="415.00" stroke="#5e5e5e" stroke-width="1.00"/>
<text x="472.90" y="427.60" font-size="11.30" text-anchor="middle" fill="#1a1a1a" font-family='"Liberation Sans", sans-serif' font-weight="normal">2</text>
<line x1="540.60" y1="412.00" x2="540.60" y2="415.00" stroke="#5e5e5e" stroke-width="1.00"/>
<text x="540.60" y="427.60" font-size="11.30" text-anchor="middle" fill="#1a1a1a" font-family='"Liberation Sans", sans-serif' font-weight="normal">3</text>
<line x1="371.35" y1="412.00" x2="371.35" y2="413.50" stroke="#5e5e5e" stroke-width="1.00"/>
<line x1="439.05" y1="412.00" x2="439.05" y2="413.50" stroke="#5e5e5e" stroke-width="1.00"/>
<line x1="506.75" y1="412.00" x2="506.75" y2="413.50" stroke="#5e5e5e" stroke-width="1.00"/>
<text x="439.40" y="447.00" font-size="12.90" text-anchor="middle" fill="#1a1a1a" font-family='"Liberation Sans", sans-serif'>E, V (Li/Li<tspan font-size="8.77" dy="-5">+</tspan><tspan dy="5" dx="1">)</tspan></text>
<text x="303.40" y="335.20" font-size="12.90" text-anchor="middle" fill="#1a1a1a" font-family='"Liberation Sans", sans-serif' font-weight="normal" transform="rotate(-90 303.40 335.20)">i, mA/g</text>
<text x="421.40" y="474.00" font-size="14" text-anchor="middle" fill="#1a1a1a" style="stroke:none" font-family='"Liberation Serif", serif'>(<tspan font-weight="bold">d</tspan>)</text>
<rect x="418.00" y="336.30" width="56.70" height="23.60" fill="none" stroke="#a0a0a0" stroke-width="0.8"/>
<line x1="418.00" y1="342.20" x2="440.50" y2="342.20" stroke="#141414" stroke-width="1.80"/>
<text x="443.40" y="345.40" font-size="9.80" text-anchor="start" fill="#1a1a1a" font-family='"Liberation Sans", sans-serif' font-weight="normal">1 cycle</text>
<line x1="418.00" y1="354.50" x2="440.50" y2="354.50" stroke="#ff1a1a" stroke-width="1.80"/>
<text x="443.40" y="357.70" font-size="9.80" text-anchor="start" fill="#1a1a1a" font-family='"Liberation Sans", sans-serif' font-weight="normal">2 cycle</text>
<path d="M540.70,293.60 C540.70,293.60 536.62,295.96 533.00,296.70 C525.34,298.27 507.70,297.30 495.90,297.50 C485.13,297.69 474.93,297.76 465.00,297.90 C455.75,298.03 446.06,297.89 438.20,298.30 C432.00,298.63 426.58,298.95 421.60,299.80 C417.41,300.52 413.22,301.58 410.20,302.70 C408.08,303.49 406.85,304.52 405.00,305.30 C403.00,306.14 400.42,306.81 398.60,307.50 C397.22,308.02 396.23,308.22 395.00,309.00 C393.38,310.02 391.63,311.88 390.00,313.50 C388.29,315.20 386.66,316.75 385.00,319.00 C382.82,321.95 380.26,327.05 378.50,330.00 C377.31,331.99 376.72,332.97 375.50,335.00 C373.62,338.14 370.42,343.33 368.30,347.00 C366.54,350.06 364.83,352.70 363.60,355.50 C362.49,358.03 362.04,360.31 361.10,363.00 C359.99,366.17 358.84,372.94 357.30,373.30 C356.31,373.53 355.05,371.24 354.00,370.20 C352.99,369.20 352.12,367.15 351.10,367.20 C349.82,367.26 348.39,370.47 347.00,372.30 C345.46,374.34 343.49,376.66 342.30,378.90 C341.23,380.90 340.65,382.93 340.00,385.00 C339.35,387.07 338.68,391.34 338.40,391.30 C338.03,391.25 338.44,383.65 338.60,380.00 C338.75,376.56 339.00,373.48 339.30,370.00 C339.62,366.18 340.08,362.08 340.50,358.00 C340.94,353.75 341.40,349.49 341.90,345.00 C342.43,340.18 342.92,334.99 343.60,330.00 C344.28,324.99 344.87,319.32 346.00,315.00 C346.89,311.57 348.02,308.64 349.30,306.00 C350.40,303.74 351.81,301.50 353.00,300.00 C353.82,298.96 354.31,298.57 355.40,297.60 C357.39,295.83 361.38,293.09 364.30,290.60 C367.32,288.03 370.38,285.12 373.20,282.40 C375.87,279.82 378.35,276.29 380.80,274.70 C382.54,273.57 384.28,273.55 385.90,272.80 C387.48,272.07 388.87,270.49 390.40,270.30 C391.84,270.13 393.33,270.85 394.80,271.50 C396.49,272.24 398.27,273.93 399.90,274.70 C401.25,275.34 402.50,275.22 403.80,276.00 C405.50,277.01 406.69,279.90 408.90,280.80 C411.56,281.89 415.17,280.84 419.10,281.00 C424.48,281.22 431.84,281.75 438.20,282.20 C444.57,282.65 452.35,283.38 457.30,283.70 C460.44,283.90 462.00,283.77 465.00,284.10 C469.28,284.57 475.10,285.80 480.50,286.70 C486.39,287.69 493.45,288.86 499.00,289.80 C503.55,290.57 507.03,291.42 511.40,291.90 C516.24,292.43 524.01,293.12 526.80,292.70 C527.89,292.54 527.96,292.01 529.00,291.90 C531.34,291.66 540.70,293.60 540.70,293.60" fill="none" stroke="#141414" stroke-width="1.55" stroke-linejoin="round" stroke-linecap="round"/>
<path d="M540.70,293.60 C540.70,293.60 536.62,295.96 533.00,296.70 C525.34,298.27 507.70,297.30 495.90,297.50 C485.13,297.69 475.48,297.67 465.00,297.90 C454.13,298.13 439.63,297.58 431.80,298.90 C427.36,299.65 424.75,300.44 421.60,302.10 C418.36,303.81 415.49,307.29 412.70,309.10 C410.49,310.53 408.43,311.94 406.40,312.40 C404.72,312.78 402.99,312.71 401.50,312.20 C399.99,311.69 398.79,310.10 397.40,309.30 C396.12,308.56 394.95,307.76 393.50,307.50 C391.86,307.20 389.99,307.57 388.00,307.90 C385.57,308.30 382.79,309.08 380.00,310.00 C376.82,311.05 373.20,312.13 370.00,314.00 C366.51,316.03 362.68,319.12 360.00,322.00 C357.67,324.51 355.62,327.55 354.50,330.00 C353.69,331.78 353.64,332.93 353.20,335.00 C352.51,338.31 351.96,343.68 351.10,348.00 C350.23,352.35 348.64,356.91 348.00,361.00 C347.44,364.58 348.45,370.37 347.20,371.20 C346.50,371.66 345.14,370.40 344.20,370.20 C343.39,370.03 342.66,369.77 341.90,370.00 C340.95,370.29 339.73,371.32 339.10,372.30 C338.45,373.31 338.18,376.02 338.10,376.00 C338.02,375.98 338.40,373.87 338.60,372.30 C338.95,369.58 339.54,364.91 340.00,361.10 C340.48,357.15 340.87,353.18 341.40,349.00 C341.97,344.50 342.60,339.01 343.30,335.00 C343.83,331.95 344.32,329.93 345.00,327.00 C345.83,323.40 346.85,318.74 348.00,315.00 C349.04,311.62 349.99,308.13 351.50,305.50 C352.76,303.29 354.57,301.48 356.00,300.00 C357.11,298.86 357.97,298.32 359.20,297.20 C360.96,295.61 363.35,293.53 365.50,291.30 C368.00,288.69 370.48,284.00 373.20,282.40 C375.21,281.22 377.23,281.66 379.50,281.10 C382.25,280.42 385.61,278.66 388.50,278.50 C391.12,278.35 394.02,279.18 396.10,279.80 C397.65,280.26 398.59,281.07 400.00,281.50 C401.54,281.97 403.31,282.20 405.00,282.40 C406.71,282.60 408.01,282.66 410.20,282.70 C413.96,282.77 420.13,282.28 425.50,282.40 C431.49,282.53 438.05,283.21 444.50,283.60 C451.20,284.01 458.66,284.08 465.00,284.80 C470.55,285.43 475.10,286.50 480.50,287.40 C486.39,288.39 493.45,289.59 499.00,290.50 C503.54,291.25 507.03,292.06 511.40,292.50 C516.24,292.98 521.80,292.91 526.80,293.10 C531.55,293.28 540.70,293.60 540.70,293.60" fill="none" stroke="#ff1a1a" stroke-width="1.55" stroke-linejoin="round" stroke-linecap="round"/>
<text x="94.84" y="30.50" font-size="7.90" text-anchor="start" fill="#1a1a1a" font-family='"Liberation Sans", sans-serif' transform="rotate(-90 94.84 30.50)">0.45 V</text>
<text x="106.94" y="26.70" font-size="7.90" text-anchor="start" fill="#1a1a1a" font-family='"Liberation Sans", sans-serif' transform="rotate(-90 106.94 26.70)">0.54 V</text>
<text x="117.34" y="32.50" font-size="7.90" text-anchor="start" fill="#1a1a1a" font-family='"Liberation Sans", sans-serif' transform="rotate(-90 117.34 32.50)">0.66 V</text>
<text x="130.84" y="46.80" font-size="7.90" text-anchor="start" fill="#1a1a1a" font-family='"Liberation Sans", sans-serif' transform="rotate(-90 130.84 46.80)">0.89 V</text>
<text x="144.04" y="52.80" font-size="7.90" text-anchor="start" fill="#1a1a1a" font-family='"Liberation Sans", sans-serif' transform="rotate(-90 144.04 52.80)">1.08 V</text>
<text x="150.24" y="101.40" font-size="7.90" text-anchor="start" fill="#1a1a1a" font-family='"Liberation Sans", sans-serif' transform="rotate(-90 150.24 101.40)">1.25 V</text>
<text x="110.84" y="113.10" font-size="7.90" text-anchor="start" fill="#1a1a1a" font-family='"Liberation Sans", sans-serif' transform="rotate(-90 110.84 113.10)">0.56 V</text>
<text x="94.94" y="137.20" font-size="7.90" text-anchor="start" fill="#1a1a1a" font-family='"Liberation Sans", sans-serif' transform="rotate(-90 94.94 137.20)">0.25 V</text>
<text x="80.94" y="164.30" font-size="7.90" text-anchor="start" fill="#1a1a1a" font-family='"Liberation Sans", sans-serif' transform="rotate(-90 80.94 164.30)">0.084 V</text>
</svg>
</body></html>
